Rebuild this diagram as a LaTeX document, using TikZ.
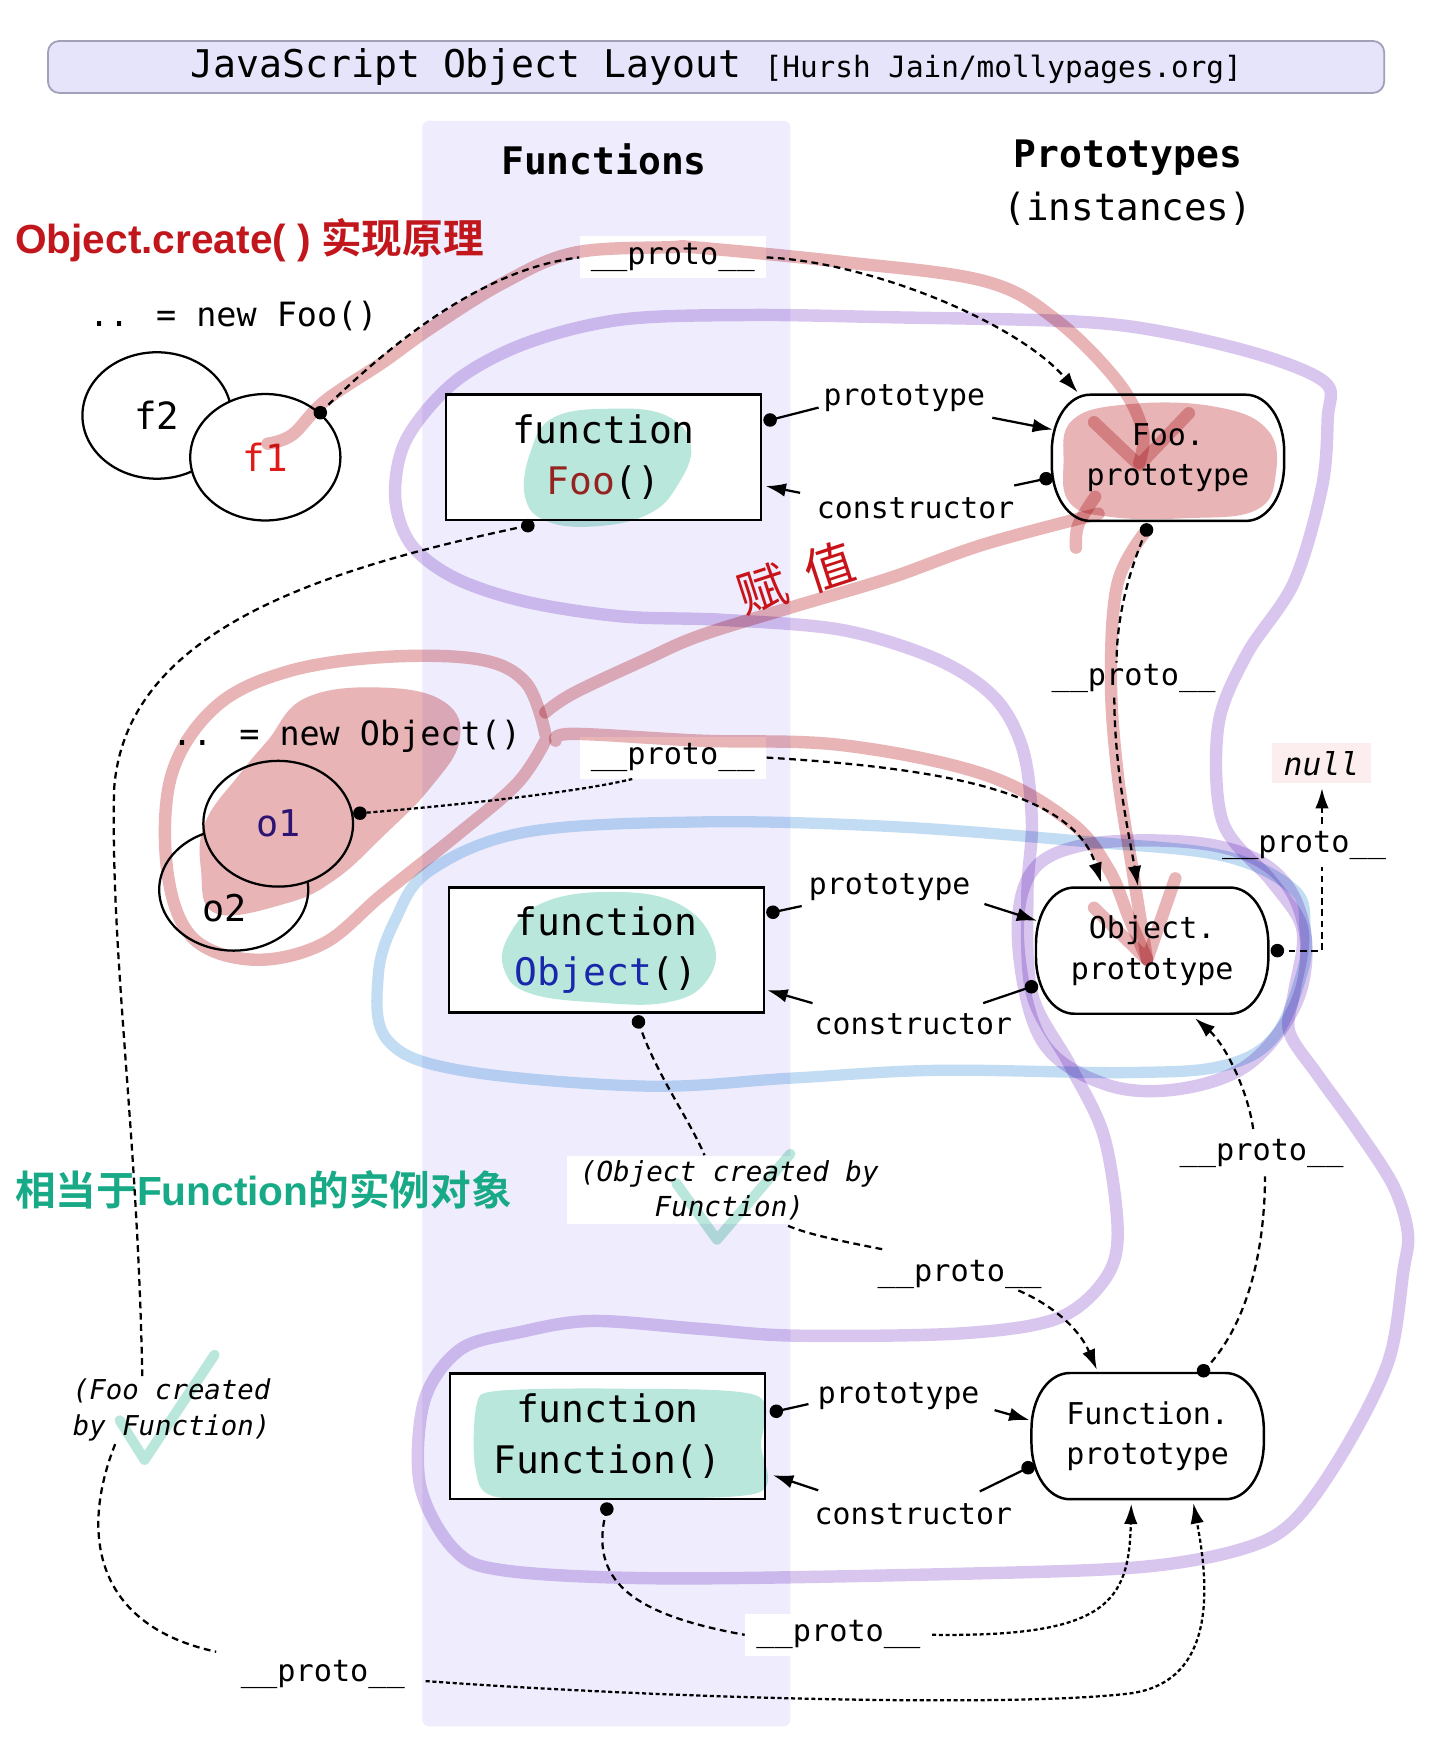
\documentclass[tikz,border=0pt]{standalone}
\usepackage{fontspec}
\setmainfont{DejaVu Sans Mono}[ItalicFont={DejaVu Sans Mono Oblique},BoldFont={DejaVu Sans Mono Bold}]
\newfontfamily\arialf{Liberation Sans}
\newfontfamily\cjkf{Noto Sans CJK SC}[BoldFont={Noto Sans CJK SC Bold}]
\usetikzlibrary{arrows.meta,calc,shapes.geometric}
\definecolor{colbg}{RGB}{239,237,253}
\definecolor{titlebg}{RGB}{230,228,251}
\definecolor{titlebd}{RGB}{160,160,185}
\definecolor{redhead}{RGB}{192,22,28}
\definecolor{greenhead}{RGB}{24,170,135}
\definecolor{hlred}{RGB}{205,90,95}
\definecolor{hlpurple}{RGB}{170,130,220}
\definecolor{hlblue}{RGB}{120,180,230}
\definecolor{hlgreen}{RGB}{140,215,195}
\definecolor{fooRed}{RGB}{205,40,40}
\definecolor{f1red}{RGB}{225,25,25}
\definecolor{objBlue}{RGB}{35,45,200}
\definecolor{o1col}{RGB}{50,30,160}
\definecolor{nullbg}{RGB}{252,238,238}
\definecolor{redhand}{RGB}{200,20,25}
\newcommand\pshape[1]{%
 \draw[line width=1.1pt]
 ($(#1.north west)+(34,0)$) -- ($(#1.north east)+(-34,0)$)
 .. controls ($(#1.north east)+(-15,0)$) and ($(#1.north east)+(0,22)$) .. ($(#1.north east)+(0,50)$)
 -- ($(#1.south east)+(0,-50)$)
 .. controls ($(#1.south east)+(0,-22)$) and ($(#1.south east)+(-15,0)$) .. ($(#1.south east)+(-34,0)$)
 -- ($(#1.south west)+(34,0)$)
 .. controls ($(#1.south west)+(15,0)$) and ($(#1.south west)+(0,-22)$) .. ($(#1.south west)+(0,-50)$)
 -- ($(#1.north west)+(0,50)$)
 .. controls ($(#1.north west)+(0,22)$) and ($(#1.north west)+(15,0)$) .. ($(#1.north west)+(34,0)$) -- cycle;}
\begin{document}
\begin{tikzpicture}[x=0.5pt,y=-0.5pt,
  fbox/.style={draw, line width=1.1pt, fill=white, minimum width=139.5pt, minimum height=55.5pt, inner sep=0pt, align=center, font=\fontsize{16.8}{22.5}\selectfont},
  pbox/.style={minimum width=102.5pt, minimum height=55.5pt, inner sep=0pt, align=center, font=\fontsize{13.3}{18}\selectfont},
  lbl/.style={font=\fontsize{13.2}{15}\selectfont, inner sep=1pt},
  plbl/.style={font=\fontsize{13.4}{15}\selectfont, fill=white, inner xsep=5pt, inner ysep=3pt},
  ell/.style={ellipse, draw, line width=1pt, inner sep=0pt},
  conn/.style={line width=1pt},
  arr/.style={line width=1pt, -{Latex[length=9pt,width=6pt]}},
  dsh/.style={line width=1pt, dash pattern=on 3pt off 2pt},
  dts/.style={line width=1pt, dash pattern=on 1.8pt off 1.2pt},
  hl/.style={line cap=round, line join=round, blend mode=multiply},
  hlR/.style={hl, draw=hlred, draw opacity=0.45, line width=5.5pt},
  hlP/.style={hl, draw=hlpurple, draw opacity=0.45, line width=5.5pt},
  hlB/.style={hl, draw=hlblue, draw opacity=0.45, line width=5pt},
  hlG/.style={hl, draw=hlgreen, draw opacity=0.6, line width=4.5pt},
  fillR/.style={blend mode=multiply, fill=hlred, fill opacity=0.45},
  fillG/.style={blend mode=multiply, fill=hlgreen, fill opacity=0.6}
]
\fill[white] (0,0) rectangle (1280,1558);
\useasboundingbox (0,0) rectangle (1280,1558);
\fill[colbg, rounded corners=3pt] (374,107) rectangle (700,1529);

% title
\node[draw=titlebd, fill=titlebg, line width=0.8pt, rounded corners=5pt, minimum width=591.75pt, minimum height=23pt, inner sep=0pt] (title) at (634.25,59.3)
 {\fontsize{16.9}{20}\selectfont JavaScript Object Layout \fontsize{13}{16}\selectfont[Hursh Jain/mollypages.org]};
\node[font=\fontsize{16.8}{20}\selectfont\bfseries] (hFun) at (535,141) {Functions};
\node[font=\fontsize{16.8}{20}\selectfont\bfseries] (hProto) at (999,140) {Prototypes};
\node[font=\fontsize{16.6}{20}\selectfont] (hInst) at (999,185) {(instances)};

\node[anchor=west, inner sep=0pt, text=redhead, font=\fontsize{18}{20}\selectfont\bfseries] (create) at (13,213) {{\arialf Object.create( )}\hspace{4.5pt}{\cjkf 实现原理}};
\node[anchor=west, inner sep=0pt, text=greenhead, font=\fontsize{18}{20}\selectfont\bfseries] (eqv) at (13,1054) {{\cjkf 相当于}{\arialf Function}{\cjkf 的实例对象}};

% instances
\node[font=\fontsize{14.8}{18}\selectfont] (newFoo) at (206.6,280) {.. = new Foo()};
\node[ell, minimum width=66pt, minimum height=56pt, font=\fontsize{16.6}{20}\selectfont] (f2) at (139,368) {f2};
\node[ell, fill=white, minimum width=66.5pt, minimum height=56pt, font=\fontsize{16.6}{20}\selectfont, text=f1red] (f1) at (235,405) {f1};
\node[font=\fontsize{14.8}{18}\selectfont] (newObj) at (307,652) {.. = new Object()};
\draw[line width=1pt] (207,788) ellipse [x radius=66, y radius=54];
\node[ell, fill=white, minimum width=66.3pt, minimum height=55.7pt, font=\fontsize{16.3}{20}\selectfont, text=o1col] (o1) at (246.4,729.6) {o1};
\node[font=\fontsize{16.3}{20}\selectfont] (o2) at (199,804) {o2};

% function boxes
\node[fbox] (fooBox) at (534.5,405) {function\\{\color{fooRed}Foo}()};
\node[fbox] (objBox) at (537,841.5) {function\\{\color{objBlue}Object}()};
\node[fbox] (funBox) at (538,1272) {function\\Function()};

% prototype boxes
\node[pbox] (fooProto) at (1034.5,405.5) {Foo.\\prototype};
\node[pbox] (objProto) at (1020.5,842) {Object.\\prototype};
\node[pbox] (funProto) at (1016.5,1272) {Function.\\prototype};
\pshape{fooProto}
\pshape{objProto}
\pshape{funProto}

% labels
\node[lbl] (protoFoo) at (801,353) {prototype};
\node[lbl] (consFoo) at (811,450) {constructor};
\node[lbl] (protoObj) at (788,786) {prototype};
\node[lbl] (consObj) at (809,907.5) {constructor};
\node[lbl] (protoFun) at (796,1237) {prototype};
\node[lbl] (consFun) at (809,1341) {constructor};

\node[plbl] (pxTop) at (596,228) {\_\_proto\_\_};
\node[plbl] (pxO1) at (596,671) {\_\_proto\_\_};
\node[plbl] (pxFooP) at (1004,601) {\_\_proto\_\_};
\node[plbl] (pxNull) at (1155,749) {\_\_proto\_\_};
\node[plbl] (pxObjFun) at (850,1129) {\_\_proto\_\_};
\node[plbl] (pxFunObj) at (1117.5,1022) {\_\_proto\_\_};
\node[plbl] (pxBot) at (286,1483) {\_\_proto\_\_};
\node[plbl] (pxFun) at (742.6,1448) {\_\_proto\_\_};

\node[font=\fontsize{13.9}{16}\selectfont\itshape, fill=nullbg, minimum width=43.5pt, minimum height=17.7pt, inner sep=0pt] (nullN) at (1170.5,676) {null};
\node[font=\fontsize{12.2}{15.5}\selectfont\itshape, align=center, fill=white, inner xsep=6pt, inner ysep=2pt] (objCreated) at (646,1054) {(Object created by\\Function)};
\node[font=\fontsize{12.1}{16}\selectfont\itshape, align=center, inner sep=1pt] (fooCreated) at (152,1249) {(Foo created\\by Function)};

% dot coordinates
\coordinate (fooPd) at ([shift={(7,-33)}]fooBox.east);
\coordinate (fooCd) at ([shift={(-5,18.5)}]fooProto.west);
\coordinate (fooBd) at ([shift={(-67,4)}]fooBox.south);
\coordinate (fooPBd) at ([shift={(-19,8)}]fooProto.south);
\coordinate (objPd) at ([shift={(7,-33.5)}]objBox.east);
\coordinate (objCd) at ([shift={(-4,32)}]objProto.west);
\coordinate (objRd) at ([shift={(8,0)}]objProto.east);
\coordinate (objBd) at ([shift={(28.5,7)}]objBox.south);
\coordinate (funPd) at ([shift={(9,-22)}]funBox.east);
\coordinate (funCd) at ([shift={(-3,28)}]funProto.west);
\coordinate (funTd) at ([shift={(49.5,-2)}]funProto.north);
\coordinate (funBd) at ([shift={(-0.5,8)}]funBox.south);
\coordinate (f1d) at (f1.39);
\coordinate (o1d) at ([shift={(6,0)}]o1.8);
\coordinate (nullCorner) at ([shift={(47.5,0)}]objProto.east);

% prototype / constructor links
\draw[conn] (fooPd) -- ([shift={(-2,8)}]protoFoo.west);
\draw[arr] ([shift={(4,17)}]protoFoo.east) -- ([shift={(1,-25)}]fooProto.west);
\draw[conn] (fooCd) -- ([shift={(-2.5,-20)}]consFoo.east);
\draw[arr] ([shift={(-12.5,-13.5)}]consFoo.west) -- ([shift={(3,25.5)}]fooBox.east);

\draw[conn] (objPd) -- ([shift={(-4,16.5)}]protoObj.west);
\draw[arr] ([shift={(10,14.7)}]protoObj.east) -- ([shift={(1,-26.4)}]objProto.west);
\draw[conn] (objCd) -- ([shift={(-28,-19)}]consObj.east);
\draw[arr] ([shift={(0.5,-19)}]consObj.west) -- ([shift={(2,35.5)}]objBox.east);

\draw[conn] (funPd) -- ([shift={(-6,6.6)}]protoFun.west);
\draw[arr] ([shift={(11,12)}]protoFun.east) -- ([shift={(-1.8,-14.2)}]funProto.west);
\draw[conn] (funCd) -- ([shift={(-31,-20)}]consFun.east);
\draw[arr] ([shift={(5.5,-21)}]consFun.west) -- ([shift={(6,34.6)}]funBox.east);

% __proto__ links
\draw[dsh] (f1d) .. controls (350,300) and (430,238) .. (pxTop.west);
\draw[arr, dash pattern=on 3pt off 2pt] (pxTop.east) .. controls (770,232) and (900,285) .. ([shift={(23,-2)}]fooProto.north west);

\draw[dsh] (fooBd) .. controls (280,505) and (110,560) .. (101,700) .. controls (98,850) and (122,1000) .. ([shift={(-26,0)}]fooCreated.north);
\draw[dsh] ([shift={(-50,0)}]fooCreated.south) .. controls (70,1360) and (85,1440) .. ([shift={(-11.5,-20)}]pxBot.west);
\draw[arr, dash pattern=on 1.8pt off 1.2pt] ([shift={(8,6)}]pxBot.east) .. controls (600,1505) and (900,1512) .. (1000,1500) .. controls (1080,1490) and (1070,1400) .. ([shift={(40.5,3.5)}]funProto.south);

\draw[dsh] (fooPBd) .. controls (998,510) and (989,550) .. ([shift={(-15,-14)}]pxFooP.center);
\draw[arr, dash pattern=on 3pt off 2pt] ([shift={(-17,17)}]pxFooP.center) .. controls (987,680) and (1000,740) .. ([shift={(-12.5,-1)}]objProto.north);

\draw[dts] (o1d) .. controls (420,712) and (520,700) .. ([shift={(-36,0)}]pxO1.south);
\draw[arr, dash pattern=on 3pt off 2pt] (pxO1.east) .. controls (830,680) and (950,700) .. ([shift={(-45,-4)}]objProto.north);

\draw[dsh] (objRd) -- (nullCorner) -- (nullCorner |- pxNull.south);
\draw[arr, dash pattern=on 3pt off 2pt] (nullCorner |- pxNull.north) -- ([yshift=-2pt]nullCorner |- nullN.south);

\draw[dsh] (objBd) .. controls (580,950) and (610,990) .. ([shift={(-22,0)}]objCreated.north);
\draw[dsh] ([shift={(52,1)}]objCreated.south) .. controls (720,1095) and (760,1102) .. ([shift={(-66,-22)}]pxObjFun.center);
\draw[arr, dash pattern=on 3pt off 2pt] ([shift={(52,14)}]pxObjFun.center) .. controls (930,1155) and (955,1175) .. ([shift={(-45,-3)}]funProto.north);

\draw[dsh] (funTd) .. controls (1100,1180) and (1120,1120) .. ([shift={(3,20)}]pxFunObj.center);
\draw[arr, dash pattern=on 3pt off 2pt] ([shift={(-7.5,-22)}]pxFunObj.center) .. controls (1105,965) and (1085,925) .. ([shift={(38,4)}]objProto.south);

\draw[dsh] (funBd) .. controls (520,1400) and (560,1430) .. (pxFun.west);
\draw[arr, dash pattern=on 1.8pt off 1.2pt] (pxFun.east) .. controls (980,1450) and (1000,1420) .. ([shift={(-14.5,4)}]funProto.south);

% dots
\foreach \c in {fooPd,fooCd,fooBd,fooPBd,objPd,objCd,objRd,objBd,funPd,funCd,funTd,funBd,f1d,o1d}
  \fill (\c) circle[radius=6];

% ---------- hand-drawn annotations ----------
% green highlights
\fill[fillG] plot[smooth cycle, tension=0.7] coordinates {(470,400) (490,370) (540,362) (590,368) (612,395) (600,430) (575,455) (530,466) (485,462) (465,440)};
\fill[fillG] plot[smooth cycle, tension=0.7] coordinates {(450,830) (480,800) (540,790) (600,800) (632,835) (625,870) (590,888) (530,888) (470,880) (447,860)};
\fill[fillG] plot[smooth cycle, tension=0.5] coordinates {(422,1245) (440,1232) (550,1230) (670,1236) (674,1280) (672,1322) (550,1327) (440,1326) (421,1300)};
\draw[hlG] (599,1048) -- (635,1098) -- (700,1022);
\draw[hlG] (106,1258) -- (128,1293) -- (190,1200);

% red fills
\fill[fillR] plot[smooth cycle, tension=0.7] coordinates {(950,372) (1000,358) (1075,360) (1122,380) (1130,420) (1112,452) (1050,459) (985,458) (948,446) (942,410)};
\fill[fillR] plot[smooth cycle, tension=0.7] coordinates {(271,618) (339,609) (394,622) (407,656) (381,698) (339,741) (297,779) (254,800) (191,809) (178,770) (182,728) (212,686) (237,656)};

% blue loop
\draw[hlB] plot[smooth cycle, tension=0.6] coordinates {(620,728) (788,732) (957,745) (1083,758) (1146,788) (1156,822) (1154,859) (1129,918) (1083,944) (999,950) (830,948) (700,955) (571,962) (408,948) (343,921) (335,864) (350,815) (381,771) (466,737)};

% purple loops
\draw[hlP] plot[smooth cycle, tension=0.55] coordinates {(1175,340) (1125,317) (1041,296) (957,285) (788,281) (664,279) (551,283) (466,304) (403,338) (360,389) (350,440) (364,482) (403,512) (466,533) (551,546) (640,549) (746,558) (830,584) (881,618) (906,664) (914,728) (910,792) (914,880) (948,944) (978,1007) (990,1092) (978,1134) (936,1168) (851,1181) (704,1183) (620,1177) (524,1170) (460,1180) (408,1195) (376,1240) (372,1315) (402,1372) (447,1391) (589,1398) (848,1394) (1010,1388) (1100,1372) (1146,1347) (1191,1284) (1230,1205) (1243,1126) (1247,1092) (1234,1050) (1201,999) (1167,952) (1142,914) (1146,880) (1154,838) (1150,813) (1125,779) (1083,728) (1079,643) (1104,580) (1146,516) (1171,431) (1176,370)};
\draw[hlP] plot[smooth cycle, tension=0.6] coordinates {(1104,757) (1041,745) (957,749) (912,775) (902,838) (923,922) (978,960) (1041,965) (1104,944) (1146,893) (1157,838) (1142,787)};

% red strokes
\draw[hlR] plot[smooth, tension=0.6] coordinates {(237,393) (259,385) (288,355) (339,321) (381,291) (445,251) (508,224) (593,219) (620,219.5) (746,232) (872,249) (935,283) (990,338) (1012,381) (1009,410)};
\draw[hlR] (969,374) -- (1009,412) -- (1053,366);
\draw[hlR] plot[smooth, tension=0.6] coordinates {(973,455) (872,482) (788,512) (704,537) (620,563) (572,584) (508,614) (483,631)};
\draw[hlR] plot[smooth, tension=0.6] coordinates {(970,440) (955,465) (953,485)};
\draw[hlR] plot[smooth, tension=0.6] coordinates {(483,650) (466,605) (424,584) (339,582) (254,595) (191,626) (152,686) (148,770) (170,830) (224,850) (286,836) (339,792) (403,741) (458,694) (483,656)};
\draw[hlR] plot[smooth, tension=0.6] coordinates {(492,656) (508,650) (620,656) (746,660) (872,686) (948,728) (982,770) (1000,813) (1016,850)};
\draw[hlR] (969,804) -- (1016,850) -- (1041,778);
\draw[hlR] plot[smooth, tension=0.6] coordinates {(1016,469) (990,516) (984,601) (990,686) (1003,770) (1016,850)};

\node[text=redhand, rotate=18, inner sep=0pt, font=\cjkf\fontsize{22}{22}\selectfont] (fuzhi) at (705,512) {赋\hspace{9pt}值};
\end{tikzpicture}
\end{document}
